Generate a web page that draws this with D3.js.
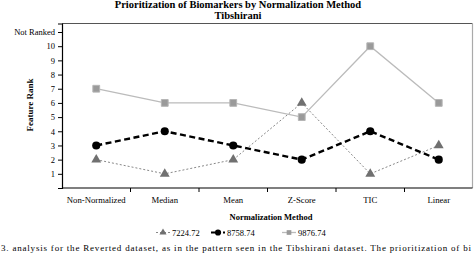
<!DOCTYPE html>
<html><head><meta charset="utf-8">
<script src="https://cdn.jsdelivr.net/npm/d3@7"></script>
<style>
html,body{margin:0;padding:0;background:#fff;overflow:hidden;}
text{font-family:"Liberation Serif","Times New Roman",serif;fill:#000;}
</style></head>
<body>
<svg id="c" width="474" height="254"></svg>
<script>
const categories = ["Non-Normalized","Median","Mean","Z-Score","TIC","Linear"];
const seriesNames = ["7224.72","8758.74","9876.74"];
const s7224 = [2,1,2,6,1,3];
const s8758 = [3,4,3,2,4,2];
const s9876 = [7,6,6,5,10,6];
const yTickValues = [1,2,3,4,5,6,7,8,9,10,11];
const yTickLabels = ["1","2","3","4","5","6","7","8","9","10","Not Ranked"];
const titleText = "Prioritization of Biomarkers by Normalization Method";
const subtitleText = "Tibshirani";
const xTitle = "Normalization Method";
const yTitle = "Feature Rank";
const captionText = "3. analysis for the Reverted dataset, as in the pattern seen in the Tibshirani dataset. The prioritization of bi";

const svg = d3.select("#c");
const L = 62, R = 472.5, T = 23.5, B = 188;
const x = d3.scaleBand().domain(categories).range([L, R + 0.5]);
const y = d3.scaleLinear().domain([0, 11.6]).range([B, T]);

// frame top/right
svg.append("line").attr("x1",L).attr("x2",R).attr("y1",T).attr("y2",T).attr("stroke","#555").attr("stroke-width",1);
svg.append("line").attr("x1",R).attr("x2",R).attr("y1",T).attr("y2",B).attr("stroke","#aaa").attr("stroke-width",1.2);

// y axis
const yAxis = d3.axisLeft(y).tickValues(yTickValues).tickSize(4).tickPadding(3)
  .tickFormat((d,i)=>yTickLabels[i]);
const gy = svg.append("g").attr("transform",`translate(${L},0)`).call(yAxis);
gy.attr("font-family",null);
gy.select(".domain").attr("stroke","#000").attr("stroke-width",1.2);
gy.selectAll("text").attr("font-size","8.5px");

// x axis with ticks at band boundaries
const gx = svg.append("g").attr("transform",`translate(0,${B})`);
gx.append("line").attr("x1",L).attr("x2",R).attr("stroke","#000").attr("stroke-width",1.2);
const bounds = categories.slice(1).map(c => x(c));
gx.selectAll("line.tk").data(bounds).enter().append("line").attr("class","tk")
  .attr("x1",d=>d).attr("x2",d=>d).attr("y1",0).attr("y2",4).attr("stroke","#000");
gx.selectAll("text.lb").data(categories).enter().append("text").attr("class","lb")
  .attr("x",d=>x(d)+x.bandwidth()/2).attr("y",15).attr("text-anchor","middle")
  .attr("font-size","8.7px").text(d=>d);

// titles
svg.append("text").attr("x",238).attr("y",8).attr("text-anchor","middle")
  .attr("font-weight","bold").attr("font-size","10.5px").text(titleText);
svg.append("text").attr("x",238).attr("y",18.5).attr("text-anchor","middle")
  .attr("font-weight","bold").attr("font-size","10.5px").text(subtitleText);
svg.append("text").attr("x",271).attr("y",219.5).attr("text-anchor","middle")
  .attr("font-weight","bold").attr("font-size","8.5px").text(xTitle);
svg.append("text").attr("transform","translate(33,105) rotate(-90)").attr("text-anchor","middle")
  .attr("font-weight","bold").attr("font-size","9px").text(yTitle);

const cx = d => x(d) + x.bandwidth()/2;
const line = d3.line().x(d=>cx(d.c)).y(d=>y(d.v));
const mk = arr => categories.map((c,i)=>({c, v: arr[i]}));

const styles = [
  {data: s7224, stroke:"#888", width:1, dash:"2,2", marker:"tri", fill:"#707070"},
  {data: s9876, stroke:"#bbb", width:1.3, dash:null, marker:"sq", fill:"#9a9a9a"},
  {data: s8758, stroke:"#000", width:2.4, dash:"6,3.5", marker:"circ", fill:"#000"}
];
const sym = {tri: d3.symbolTriangle, sq: d3.symbolSquare, circ: d3.symbolCircle};
const symSize = {tri: 42, sq: 46, circ: 52};

styles.forEach(s=>{
  const pts = mk(s.data);
  svg.append("path").datum(pts).attr("d",line).attr("fill","none")
    .attr("stroke",s.stroke).attr("stroke-width",s.width).attr("stroke-dasharray",s.dash);
  svg.selectAll(null).data(pts).enter().append("path")
    .attr("d",d3.symbol().type(sym[s.marker]).size(symSize[s.marker]))
    .attr("transform",d=>`translate(${cx(d.c)},${y(d.v)})`)
    .attr("fill",s.fill).attr("stroke", s.marker==="sq" ? "#b5b5b5" : "none").attr("stroke-width",1);
});

// legend
const leg = [
  {name: seriesNames[0], x0:156, stroke:"#888", width:1, dash:"2,2", marker:"tri", fill:"#707070"},
  {name: seriesNames[1], x0:211, stroke:"#000", width:2.2, dash:"4,2", marker:"circ", fill:"#000"},
  {name: seriesNames[2], x0:282, stroke:"#bbb", width:1.3, dash:null, marker:"sq", fill:"#9a9a9a"}
];
const ly = 232.5;
leg.forEach(l=>{
  svg.append("line").attr("x1",l.x0).attr("x2",l.x0+14).attr("y1",ly).attr("y2",ly)
    .attr("stroke",l.stroke).attr("stroke-width",l.width).attr("stroke-dasharray",l.dash);
  svg.append("path").attr("d",d3.symbol().type(sym[l.marker]).size(l.marker==="circ"?30:22))
    .attr("transform",`translate(${l.x0+7},${ly})`).attr("fill",l.fill);
  svg.append("text").attr("x",l.x0+16).attr("y",ly+3).attr("font-size","8.5px").text(l.name);
});

// caption line at the bottom edge
svg.append("text").attr("x",1).attr("y",250.5).attr("font-size","9px")
  .attr("textLength",470).attr("lengthAdjust","spacing").text(captionText);
</script>
</body></html>
